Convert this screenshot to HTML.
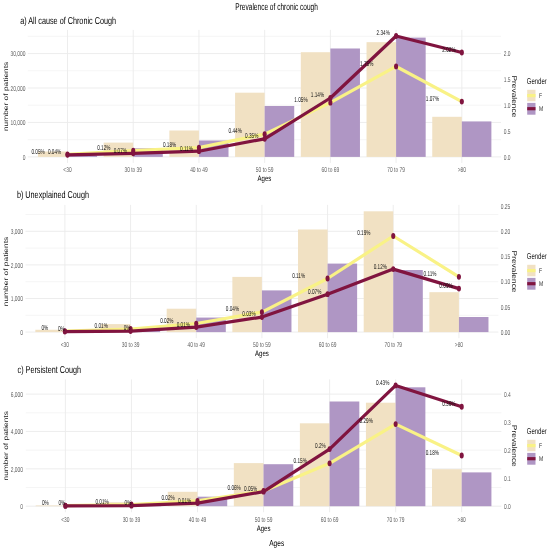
<!DOCTYPE html>
<html><head><meta charset="utf-8"><style>
html,body{margin:0;padding:0;background:#fff;}
svg{display:block;font-family:"Liberation Sans",sans-serif;text-rendering:geometricPrecision;will-change:transform;}
</style></head><body>
<svg width="550" height="552" viewBox="0 0 550 552">
<rect width="550" height="552" fill="#fff"/>
<line x1="27.80" y1="139.68" x2="501.00" y2="139.68" stroke="#EFEFEF" stroke-width="0.6"/>
<line x1="27.80" y1="105.22" x2="501.00" y2="105.22" stroke="#EFEFEF" stroke-width="0.6"/>
<line x1="27.80" y1="70.78" x2="501.00" y2="70.78" stroke="#EFEFEF" stroke-width="0.6"/>
<line x1="27.80" y1="36.33" x2="501.00" y2="36.33" stroke="#EFEFEF" stroke-width="0.6"/>
<line x1="27.80" y1="156.90" x2="501.00" y2="156.90" stroke="#EBEBEB" stroke-width="0.9"/>
<line x1="27.80" y1="122.45" x2="501.00" y2="122.45" stroke="#EBEBEB" stroke-width="0.9"/>
<line x1="27.80" y1="88.00" x2="501.00" y2="88.00" stroke="#EBEBEB" stroke-width="0.9"/>
<line x1="27.80" y1="53.55" x2="501.00" y2="53.55" stroke="#EBEBEB" stroke-width="0.9"/>
<line x1="67.50" y1="29.90" x2="67.50" y2="162.95" stroke="#EBEBEB" stroke-width="0.9"/>
<line x1="133.22" y1="29.90" x2="133.22" y2="162.95" stroke="#EBEBEB" stroke-width="0.9"/>
<line x1="198.94" y1="29.90" x2="198.94" y2="162.95" stroke="#EBEBEB" stroke-width="0.9"/>
<line x1="264.66" y1="29.90" x2="264.66" y2="162.95" stroke="#EBEBEB" stroke-width="0.9"/>
<line x1="330.38" y1="29.90" x2="330.38" y2="162.95" stroke="#EBEBEB" stroke-width="0.9"/>
<line x1="396.10" y1="29.90" x2="396.10" y2="162.95" stroke="#EBEBEB" stroke-width="0.9"/>
<line x1="461.82" y1="29.90" x2="461.82" y2="162.95" stroke="#EBEBEB" stroke-width="0.9"/>
<rect x="37.93" y="151.49" width="29.57" height="5.41" fill="#F1E1C3"/>
<rect x="67.50" y="155.52" width="29.57" height="1.38" fill="#AF96C4"/>
<rect x="103.65" y="142.60" width="29.57" height="14.30" fill="#F1E1C3"/>
<rect x="133.22" y="148.29" width="29.57" height="8.61" fill="#AF96C4"/>
<rect x="169.37" y="130.51" width="29.57" height="26.39" fill="#F1E1C3"/>
<rect x="198.94" y="140.50" width="29.57" height="16.40" fill="#AF96C4"/>
<rect x="235.09" y="92.69" width="29.57" height="64.21" fill="#F1E1C3"/>
<rect x="264.66" y="105.98" width="29.57" height="50.92" fill="#AF96C4"/>
<rect x="300.81" y="52.21" width="29.57" height="104.69" fill="#F1E1C3"/>
<rect x="330.38" y="48.49" width="29.57" height="108.41" fill="#AF96C4"/>
<rect x="366.53" y="42.18" width="29.57" height="114.72" fill="#F1E1C3"/>
<rect x="396.10" y="37.60" width="29.57" height="119.30" fill="#AF96C4"/>
<rect x="432.25" y="116.80" width="29.57" height="40.10" fill="#F1E1C3"/>
<rect x="461.82" y="121.42" width="29.57" height="35.48" fill="#AF96C4"/>
<polyline points="67.50,154.32 133.22,150.70 198.94,147.60 264.66,134.16 330.38,102.64 396.10,66.47 461.82,101.61" fill="none" stroke="#F9F286" stroke-width="3.2" stroke-linejoin="round"/>
<polyline points="67.50,154.83 133.22,153.28 198.94,151.22 264.66,138.81 330.38,97.99 396.10,35.98 461.82,52.52" fill="none" stroke="#80143F" stroke-width="3.2" stroke-linejoin="round"/>
<ellipse cx="67.50" cy="154.32" rx="2.05" ry="2.9" fill="#80143F"/>
<ellipse cx="67.50" cy="154.83" rx="2.05" ry="2.9" fill="#80143F"/>
<ellipse cx="133.22" cy="150.70" rx="2.05" ry="2.9" fill="#80143F"/>
<ellipse cx="133.22" cy="153.28" rx="2.05" ry="2.9" fill="#80143F"/>
<ellipse cx="198.94" cy="147.60" rx="2.05" ry="2.9" fill="#80143F"/>
<ellipse cx="198.94" cy="151.22" rx="2.05" ry="2.9" fill="#80143F"/>
<ellipse cx="264.66" cy="134.16" rx="2.05" ry="2.9" fill="#80143F"/>
<ellipse cx="264.66" cy="138.81" rx="2.05" ry="2.9" fill="#80143F"/>
<ellipse cx="330.38" cy="102.64" rx="2.05" ry="2.9" fill="#80143F"/>
<ellipse cx="330.38" cy="97.99" rx="2.05" ry="2.9" fill="#80143F"/>
<ellipse cx="396.10" cy="66.47" rx="2.05" ry="2.9" fill="#80143F"/>
<ellipse cx="396.10" cy="35.98" rx="2.05" ry="2.9" fill="#80143F"/>
<ellipse cx="461.82" cy="101.61" rx="2.05" ry="2.9" fill="#80143F"/>
<ellipse cx="461.82" cy="52.52" rx="2.05" ry="2.9" fill="#80143F"/>
<rect x="527.20" y="89.80" width="8.30" height="11.50" fill="#F1E1C3"/>
<line x1="527.20" y1="95.60" x2="535.50" y2="95.60" stroke="#F9F286" stroke-width="3.2"/>
<rect x="527.20" y="102.90" width="8.30" height="11.80" fill="#AF96C4"/>
<line x1="527.20" y1="108.70" x2="535.50" y2="108.70" stroke="#80143F" stroke-width="3.2"/>
<line x1="25.50" y1="315.30" x2="498.30" y2="315.30" stroke="#EFEFEF" stroke-width="0.6"/>
<line x1="25.50" y1="281.70" x2="498.30" y2="281.70" stroke="#EFEFEF" stroke-width="0.6"/>
<line x1="25.50" y1="248.10" x2="498.30" y2="248.10" stroke="#EFEFEF" stroke-width="0.6"/>
<line x1="25.50" y1="214.50" x2="498.30" y2="214.50" stroke="#EFEFEF" stroke-width="0.6"/>
<line x1="25.50" y1="332.10" x2="498.30" y2="332.10" stroke="#EBEBEB" stroke-width="0.9"/>
<line x1="25.50" y1="298.50" x2="498.30" y2="298.50" stroke="#EBEBEB" stroke-width="0.9"/>
<line x1="25.50" y1="264.90" x2="498.30" y2="264.90" stroke="#EBEBEB" stroke-width="0.9"/>
<line x1="25.50" y1="231.30" x2="498.30" y2="231.30" stroke="#EBEBEB" stroke-width="0.9"/>
<line x1="64.90" y1="204.90" x2="64.90" y2="338.16" stroke="#EBEBEB" stroke-width="0.9"/>
<line x1="130.57" y1="204.90" x2="130.57" y2="338.16" stroke="#EBEBEB" stroke-width="0.9"/>
<line x1="196.24" y1="204.90" x2="196.24" y2="338.16" stroke="#EBEBEB" stroke-width="0.9"/>
<line x1="261.91" y1="204.90" x2="261.91" y2="338.16" stroke="#EBEBEB" stroke-width="0.9"/>
<line x1="327.58" y1="204.90" x2="327.58" y2="338.16" stroke="#EBEBEB" stroke-width="0.9"/>
<line x1="393.25" y1="204.90" x2="393.25" y2="338.16" stroke="#EBEBEB" stroke-width="0.9"/>
<line x1="458.92" y1="204.90" x2="458.92" y2="338.16" stroke="#EBEBEB" stroke-width="0.9"/>
<rect x="35.35" y="329.75" width="29.55" height="2.35" fill="#F1E1C3"/>
<rect x="64.90" y="331.26" width="29.55" height="0.84" fill="#AF96C4"/>
<rect x="101.02" y="324.10" width="29.55" height="8.00" fill="#F1E1C3"/>
<rect x="130.57" y="328.40" width="29.55" height="3.70" fill="#AF96C4"/>
<rect x="166.69" y="308.71" width="29.55" height="23.39" fill="#F1E1C3"/>
<rect x="196.24" y="317.58" width="29.55" height="14.52" fill="#AF96C4"/>
<rect x="232.36" y="276.90" width="29.55" height="55.20" fill="#F1E1C3"/>
<rect x="261.91" y="290.40" width="29.55" height="41.70" fill="#AF96C4"/>
<rect x="298.03" y="229.49" width="29.55" height="102.61" fill="#F1E1C3"/>
<rect x="327.58" y="263.59" width="29.55" height="68.51" fill="#AF96C4"/>
<rect x="363.70" y="211.31" width="29.55" height="120.79" fill="#F1E1C3"/>
<rect x="393.25" y="270.01" width="29.55" height="62.09" fill="#AF96C4"/>
<rect x="429.37" y="292.18" width="29.55" height="39.92" fill="#F1E1C3"/>
<rect x="458.92" y="317.01" width="29.55" height="15.09" fill="#AF96C4"/>
<polyline points="64.90,331.09 130.57,328.98 196.24,323.53 261.91,312.09 327.58,278.52 393.25,235.99 458.92,276.81" fill="none" stroke="#F9F286" stroke-width="3.2" stroke-linejoin="round"/>
<polyline points="64.90,331.60 130.57,331.09 196.24,327.11 261.91,317.08 327.58,294.20 393.25,269.10 458.92,288.60" fill="none" stroke="#80143F" stroke-width="3.2" stroke-linejoin="round"/>
<ellipse cx="64.90" cy="331.09" rx="2.05" ry="2.9" fill="#80143F"/>
<ellipse cx="64.90" cy="331.60" rx="2.05" ry="2.9" fill="#80143F"/>
<ellipse cx="130.57" cy="328.98" rx="2.05" ry="2.9" fill="#80143F"/>
<ellipse cx="130.57" cy="331.09" rx="2.05" ry="2.9" fill="#80143F"/>
<ellipse cx="196.24" cy="323.53" rx="2.05" ry="2.9" fill="#80143F"/>
<ellipse cx="196.24" cy="327.11" rx="2.05" ry="2.9" fill="#80143F"/>
<ellipse cx="261.91" cy="312.09" rx="2.05" ry="2.9" fill="#80143F"/>
<ellipse cx="261.91" cy="317.08" rx="2.05" ry="2.9" fill="#80143F"/>
<ellipse cx="327.58" cy="278.52" rx="2.05" ry="2.9" fill="#80143F"/>
<ellipse cx="327.58" cy="294.20" rx="2.05" ry="2.9" fill="#80143F"/>
<ellipse cx="393.25" cy="235.99" rx="2.05" ry="2.9" fill="#80143F"/>
<ellipse cx="393.25" cy="269.10" rx="2.05" ry="2.9" fill="#80143F"/>
<ellipse cx="458.92" cy="276.81" rx="2.05" ry="2.9" fill="#80143F"/>
<ellipse cx="458.92" cy="288.60" rx="2.05" ry="2.9" fill="#80143F"/>
<rect x="527.20" y="264.80" width="8.30" height="11.50" fill="#F1E1C3"/>
<line x1="527.20" y1="270.60" x2="535.50" y2="270.60" stroke="#F9F286" stroke-width="3.2"/>
<rect x="527.20" y="277.90" width="8.30" height="11.80" fill="#AF96C4"/>
<line x1="527.20" y1="283.70" x2="535.50" y2="283.70" stroke="#80143F" stroke-width="3.2"/>
<line x1="25.80" y1="487.52" x2="501.30" y2="487.52" stroke="#EFEFEF" stroke-width="0.6"/>
<line x1="25.80" y1="450.16" x2="501.30" y2="450.16" stroke="#EFEFEF" stroke-width="0.6"/>
<line x1="25.80" y1="412.80" x2="501.30" y2="412.80" stroke="#EFEFEF" stroke-width="0.6"/>
<line x1="25.80" y1="506.20" x2="501.30" y2="506.20" stroke="#EBEBEB" stroke-width="0.9"/>
<line x1="25.80" y1="468.84" x2="501.30" y2="468.84" stroke="#EBEBEB" stroke-width="0.9"/>
<line x1="25.80" y1="431.48" x2="501.30" y2="431.48" stroke="#EBEBEB" stroke-width="0.9"/>
<line x1="25.80" y1="394.12" x2="501.30" y2="394.12" stroke="#EBEBEB" stroke-width="0.9"/>
<line x1="65.40" y1="379.40" x2="65.40" y2="512.24" stroke="#EBEBEB" stroke-width="0.9"/>
<line x1="131.45" y1="379.40" x2="131.45" y2="512.24" stroke="#EBEBEB" stroke-width="0.9"/>
<line x1="197.50" y1="379.40" x2="197.50" y2="512.24" stroke="#EBEBEB" stroke-width="0.9"/>
<line x1="263.55" y1="379.40" x2="263.55" y2="512.24" stroke="#EBEBEB" stroke-width="0.9"/>
<line x1="329.60" y1="379.40" x2="329.60" y2="512.24" stroke="#EBEBEB" stroke-width="0.9"/>
<line x1="395.65" y1="379.40" x2="395.65" y2="512.24" stroke="#EBEBEB" stroke-width="0.9"/>
<line x1="461.70" y1="379.40" x2="461.70" y2="512.24" stroke="#EBEBEB" stroke-width="0.9"/>
<rect x="35.68" y="505.45" width="29.72" height="0.75" fill="#F1E1C3"/>
<rect x="65.40" y="505.83" width="29.72" height="0.37" fill="#AF96C4"/>
<rect x="101.73" y="502.20" width="29.72" height="4.00" fill="#F1E1C3"/>
<rect x="131.45" y="503.40" width="29.72" height="2.80" fill="#AF96C4"/>
<rect x="167.78" y="491.80" width="29.72" height="14.40" fill="#F1E1C3"/>
<rect x="197.50" y="496.69" width="29.72" height="9.51" fill="#AF96C4"/>
<rect x="233.83" y="463.11" width="29.72" height="43.09" fill="#F1E1C3"/>
<rect x="263.55" y="464.21" width="29.72" height="41.99" fill="#AF96C4"/>
<rect x="299.88" y="423.30" width="29.72" height="82.90" fill="#F1E1C3"/>
<rect x="329.60" y="401.50" width="29.72" height="104.70" fill="#AF96C4"/>
<rect x="365.93" y="402.71" width="29.72" height="103.49" fill="#F1E1C3"/>
<rect x="395.65" y="387.30" width="29.72" height="118.90" fill="#AF96C4"/>
<rect x="431.98" y="469.19" width="29.72" height="37.01" fill="#F1E1C3"/>
<rect x="461.70" y="472.39" width="29.72" height="33.81" fill="#AF96C4"/>
<polyline points="65.40,505.64 131.45,504.52 197.50,500.88 263.55,490.93 329.60,463.33 395.65,424.10 461.70,455.48" fill="none" stroke="#F9F286" stroke-width="3.2" stroke-linejoin="round"/>
<polyline points="65.40,505.92 131.45,505.64 197.50,503.12 263.55,491.63 329.60,449.04 395.65,385.43 461.70,406.73" fill="none" stroke="#80143F" stroke-width="3.2" stroke-linejoin="round"/>
<ellipse cx="65.40" cy="505.64" rx="2.05" ry="2.9" fill="#80143F"/>
<ellipse cx="65.40" cy="505.92" rx="2.05" ry="2.9" fill="#80143F"/>
<ellipse cx="131.45" cy="504.52" rx="2.05" ry="2.9" fill="#80143F"/>
<ellipse cx="131.45" cy="505.64" rx="2.05" ry="2.9" fill="#80143F"/>
<ellipse cx="197.50" cy="500.88" rx="2.05" ry="2.9" fill="#80143F"/>
<ellipse cx="197.50" cy="503.12" rx="2.05" ry="2.9" fill="#80143F"/>
<ellipse cx="263.55" cy="490.93" rx="2.05" ry="2.9" fill="#80143F"/>
<ellipse cx="263.55" cy="491.63" rx="2.05" ry="2.9" fill="#80143F"/>
<ellipse cx="329.60" cy="463.33" rx="2.05" ry="2.9" fill="#80143F"/>
<ellipse cx="329.60" cy="449.04" rx="2.05" ry="2.9" fill="#80143F"/>
<ellipse cx="395.65" cy="424.10" rx="2.05" ry="2.9" fill="#80143F"/>
<ellipse cx="395.65" cy="385.43" rx="2.05" ry="2.9" fill="#80143F"/>
<ellipse cx="461.70" cy="455.48" rx="2.05" ry="2.9" fill="#80143F"/>
<ellipse cx="461.70" cy="406.73" rx="2.05" ry="2.9" fill="#80143F"/>
<rect x="527.20" y="439.80" width="8.30" height="11.50" fill="#F1E1C3"/>
<line x1="527.20" y1="445.60" x2="535.50" y2="445.60" stroke="#F9F286" stroke-width="3.2"/>
<rect x="527.20" y="452.90" width="8.30" height="11.80" fill="#AF96C4"/>
<line x1="527.20" y1="458.70" x2="535.50" y2="458.70" stroke="#80143F" stroke-width="3.2"/>
<g>
<text transform="translate(276.60,9.60) scale(0.668,1)" font-size="9.8" text-anchor="middle" fill="#000">Prevalence of chronic cough</text>
<text transform="translate(38.09,153.62) scale(0.669,1)" font-size="7.0" text-anchor="middle" fill="#111">0.05%</text>
<text transform="translate(54.59,154.23) scale(0.669,1)" font-size="7.0" text-anchor="middle" fill="#111">0.04%</text>
<text transform="translate(103.81,150.00) scale(0.669,1)" font-size="7.0" text-anchor="middle" fill="#111">0.12%</text>
<text transform="translate(120.31,152.68) scale(0.669,1)" font-size="7.0" text-anchor="middle" fill="#111">0.07%</text>
<text transform="translate(169.53,146.90) scale(0.669,1)" font-size="7.0" text-anchor="middle" fill="#111">0.18%</text>
<text transform="translate(186.53,150.62) scale(0.669,1)" font-size="7.0" text-anchor="middle" fill="#111">0.11%</text>
<text transform="translate(235.25,133.46) scale(0.669,1)" font-size="7.0" text-anchor="middle" fill="#111">0.44%</text>
<text transform="translate(251.75,138.21) scale(0.669,1)" font-size="7.0" text-anchor="middle" fill="#111">0.35%</text>
<text transform="translate(300.97,101.94) scale(0.669,1)" font-size="7.0" text-anchor="middle" fill="#111">1.05%</text>
<text transform="translate(317.47,97.39) scale(0.669,1)" font-size="7.0" text-anchor="middle" fill="#111">1.14%</text>
<text transform="translate(366.69,65.77) scale(0.669,1)" font-size="7.0" text-anchor="middle" fill="#111">1.75%</text>
<text transform="translate(383.19,35.38) scale(0.669,1)" font-size="7.0" text-anchor="middle" fill="#111">2.34%</text>
<text transform="translate(432.41,100.91) scale(0.669,1)" font-size="7.0" text-anchor="middle" fill="#111">1.07%</text>
<text transform="translate(448.91,51.92) scale(0.669,1)" font-size="7.0" text-anchor="middle" fill="#111">2.02%</text>
<text transform="translate(25.50,159.70) scale(0.695,1)" font-size="7.0" text-anchor="end" fill="#5E5E5E">0</text>
<text transform="translate(25.50,125.25) scale(0.695,1)" font-size="7.0" text-anchor="end" fill="#5E5E5E">10,000</text>
<text transform="translate(25.50,90.80) scale(0.695,1)" font-size="7.0" text-anchor="end" fill="#5E5E5E">20,000</text>
<text transform="translate(25.50,56.35) scale(0.695,1)" font-size="7.0" text-anchor="end" fill="#5E5E5E">30,000</text>
<text transform="translate(503.80,159.60) scale(0.695,1)" font-size="7.0" text-anchor="start" fill="#5E5E5E">0.0</text>
<text transform="translate(503.80,133.76) scale(0.695,1)" font-size="7.0" text-anchor="start" fill="#5E5E5E">0.5</text>
<text transform="translate(503.80,107.92) scale(0.695,1)" font-size="7.0" text-anchor="start" fill="#5E5E5E">1.0</text>
<text transform="translate(503.80,82.09) scale(0.695,1)" font-size="7.0" text-anchor="start" fill="#5E5E5E">1.5</text>
<text transform="translate(503.80,56.25) scale(0.695,1)" font-size="7.0" text-anchor="start" fill="#5E5E5E">2.0</text>
<text transform="translate(67.50,172.30) scale(0.695,1)" font-size="7.0" text-anchor="middle" fill="#5E5E5E">&lt;30</text>
<text transform="translate(133.22,172.30) scale(0.695,1)" font-size="7.0" text-anchor="middle" fill="#5E5E5E">30 to 39</text>
<text transform="translate(198.94,172.30) scale(0.695,1)" font-size="7.0" text-anchor="middle" fill="#5E5E5E">40 to 49</text>
<text transform="translate(264.66,172.30) scale(0.695,1)" font-size="7.0" text-anchor="middle" fill="#5E5E5E">50 to 59</text>
<text transform="translate(330.38,172.30) scale(0.695,1)" font-size="7.0" text-anchor="middle" fill="#5E5E5E">60 to 69</text>
<text transform="translate(396.10,172.30) scale(0.695,1)" font-size="7.0" text-anchor="middle" fill="#5E5E5E">70 to 79</text>
<text transform="translate(461.82,172.30) scale(0.695,1)" font-size="7.0" text-anchor="middle" fill="#5E5E5E">&gt;80</text>
<text transform="translate(264.40,180.90) scale(0.757,1)" font-size="8.0" text-anchor="middle" fill="#000">Ages</text>
<text transform="translate(8.30,96.42) rotate(-90) scale(1,0.760)" font-size="8.4" text-anchor="middle" fill="#1a1a1a">number of patients</text>
<text transform="translate(511.90,96.42) rotate(90) scale(1,0.840)" font-size="8.4" text-anchor="middle" fill="#1a1a1a">Prevalence</text>
<text transform="translate(20.20,23.60) scale(0.724,1)" font-size="10.0" text-anchor="start" fill="#000">a) All cause of Chronic Cough</text>
<text transform="translate(526.70,84.00) scale(0.709,1)" font-size="8.5" text-anchor="start" fill="#1a1a1a">Gender</text>
<text transform="translate(539.10,98.20) scale(0.740,1)" font-size="6.8" text-anchor="start" fill="#333">F</text>
<text transform="translate(539.10,111.30) scale(0.740,1)" font-size="6.8" text-anchor="start" fill="#333">M</text>
<text transform="translate(44.86,330.39) scale(0.669,1)" font-size="7.0" text-anchor="middle" fill="#111">0%</text>
<text transform="translate(61.36,331.00) scale(0.669,1)" font-size="7.0" text-anchor="middle" fill="#111">0%</text>
<text transform="translate(101.16,328.28) scale(0.669,1)" font-size="7.0" text-anchor="middle" fill="#111">0.01%</text>
<text transform="translate(127.03,330.49) scale(0.669,1)" font-size="7.0" text-anchor="middle" fill="#111">0%</text>
<text transform="translate(166.83,322.83) scale(0.669,1)" font-size="7.0" text-anchor="middle" fill="#111">0.02%</text>
<text transform="translate(183.33,326.51) scale(0.669,1)" font-size="7.0" text-anchor="middle" fill="#111">0.01%</text>
<text transform="translate(232.50,311.39) scale(0.669,1)" font-size="7.0" text-anchor="middle" fill="#111">0.04%</text>
<text transform="translate(249.00,316.48) scale(0.669,1)" font-size="7.0" text-anchor="middle" fill="#111">0.03%</text>
<text transform="translate(298.67,277.82) scale(0.669,1)" font-size="7.0" text-anchor="middle" fill="#111">0.11%</text>
<text transform="translate(314.67,293.60) scale(0.669,1)" font-size="7.0" text-anchor="middle" fill="#111">0.07%</text>
<text transform="translate(363.84,235.29) scale(0.669,1)" font-size="7.0" text-anchor="middle" fill="#111">0.19%</text>
<text transform="translate(380.34,268.50) scale(0.669,1)" font-size="7.0" text-anchor="middle" fill="#111">0.12%</text>
<text transform="translate(430.01,276.11) scale(0.669,1)" font-size="7.0" text-anchor="middle" fill="#111">0.11%</text>
<text transform="translate(446.01,288.00) scale(0.669,1)" font-size="7.0" text-anchor="middle" fill="#111">0.09%</text>
<text transform="translate(22.90,334.90) scale(0.695,1)" font-size="7.0" text-anchor="end" fill="#5E5E5E">0</text>
<text transform="translate(22.90,301.30) scale(0.695,1)" font-size="7.0" text-anchor="end" fill="#5E5E5E">1,000</text>
<text transform="translate(22.90,267.70) scale(0.695,1)" font-size="7.0" text-anchor="end" fill="#5E5E5E">2,000</text>
<text transform="translate(22.90,234.10) scale(0.695,1)" font-size="7.0" text-anchor="end" fill="#5E5E5E">3,000</text>
<text transform="translate(500.80,334.80) scale(0.695,1)" font-size="7.0" text-anchor="start" fill="#5E5E5E">0.00</text>
<text transform="translate(500.80,309.60) scale(0.695,1)" font-size="7.0" text-anchor="start" fill="#5E5E5E">0.05</text>
<text transform="translate(500.80,284.40) scale(0.695,1)" font-size="7.0" text-anchor="start" fill="#5E5E5E">0.10</text>
<text transform="translate(500.80,259.20) scale(0.695,1)" font-size="7.0" text-anchor="start" fill="#5E5E5E">0.15</text>
<text transform="translate(500.80,234.00) scale(0.695,1)" font-size="7.0" text-anchor="start" fill="#5E5E5E">0.20</text>
<text transform="translate(500.80,208.80) scale(0.695,1)" font-size="7.0" text-anchor="start" fill="#5E5E5E">0.25</text>
<text transform="translate(64.90,347.10) scale(0.695,1)" font-size="7.0" text-anchor="middle" fill="#5E5E5E">&lt;30</text>
<text transform="translate(130.57,347.10) scale(0.695,1)" font-size="7.0" text-anchor="middle" fill="#5E5E5E">30 to 39</text>
<text transform="translate(196.24,347.10) scale(0.695,1)" font-size="7.0" text-anchor="middle" fill="#5E5E5E">40 to 49</text>
<text transform="translate(261.91,347.10) scale(0.695,1)" font-size="7.0" text-anchor="middle" fill="#5E5E5E">50 to 59</text>
<text transform="translate(327.58,347.10) scale(0.695,1)" font-size="7.0" text-anchor="middle" fill="#5E5E5E">60 to 69</text>
<text transform="translate(393.25,347.10) scale(0.695,1)" font-size="7.0" text-anchor="middle" fill="#5E5E5E">70 to 79</text>
<text transform="translate(458.92,347.10) scale(0.695,1)" font-size="7.0" text-anchor="middle" fill="#5E5E5E">&gt;80</text>
<text transform="translate(261.90,355.90) scale(0.757,1)" font-size="8.0" text-anchor="middle" fill="#000">Ages</text>
<text transform="translate(8.30,271.53) rotate(-90) scale(1,0.760)" font-size="8.4" text-anchor="middle" fill="#1a1a1a">number of patients</text>
<text transform="translate(511.90,271.53) rotate(90) scale(1,0.840)" font-size="8.4" text-anchor="middle" fill="#1a1a1a">Prevalence</text>
<text transform="translate(16.90,198.40) scale(0.724,1)" font-size="10.0" text-anchor="start" fill="#000">b) Unexplained Cough</text>
<text transform="translate(526.70,259.00) scale(0.709,1)" font-size="8.5" text-anchor="start" fill="#1a1a1a">Gender</text>
<text transform="translate(539.10,273.20) scale(0.740,1)" font-size="6.8" text-anchor="start" fill="#333">F</text>
<text transform="translate(539.10,286.30) scale(0.740,1)" font-size="6.8" text-anchor="start" fill="#333">M</text>
<text transform="translate(45.36,504.94) scale(0.669,1)" font-size="7.0" text-anchor="middle" fill="#111">0%</text>
<text transform="translate(61.86,505.32) scale(0.669,1)" font-size="7.0" text-anchor="middle" fill="#111">0%</text>
<text transform="translate(102.04,503.82) scale(0.669,1)" font-size="7.0" text-anchor="middle" fill="#111">0.01%</text>
<text transform="translate(127.91,505.04) scale(0.669,1)" font-size="7.0" text-anchor="middle" fill="#111">0%</text>
<text transform="translate(168.09,500.18) scale(0.669,1)" font-size="7.0" text-anchor="middle" fill="#111">0.02%</text>
<text transform="translate(184.59,502.52) scale(0.669,1)" font-size="7.0" text-anchor="middle" fill="#111">0.01%</text>
<text transform="translate(234.14,490.23) scale(0.669,1)" font-size="7.0" text-anchor="middle" fill="#111">0.06%</text>
<text transform="translate(250.64,491.03) scale(0.669,1)" font-size="7.0" text-anchor="middle" fill="#111">0.05%</text>
<text transform="translate(300.19,462.63) scale(0.669,1)" font-size="7.0" text-anchor="middle" fill="#111">0.15%</text>
<text transform="translate(320.44,448.44) scale(0.669,1)" font-size="7.0" text-anchor="middle" fill="#111">0.2%</text>
<text transform="translate(366.24,423.40) scale(0.669,1)" font-size="7.0" text-anchor="middle" fill="#111">0.29%</text>
<text transform="translate(382.74,384.83) scale(0.669,1)" font-size="7.0" text-anchor="middle" fill="#111">0.43%</text>
<text transform="translate(432.29,454.78) scale(0.669,1)" font-size="7.0" text-anchor="middle" fill="#111">0.18%</text>
<text transform="translate(448.79,406.13) scale(0.669,1)" font-size="7.0" text-anchor="middle" fill="#111">0.36%</text>
<text transform="translate(22.90,509.00) scale(0.695,1)" font-size="7.0" text-anchor="end" fill="#5E5E5E">0</text>
<text transform="translate(22.90,471.64) scale(0.695,1)" font-size="7.0" text-anchor="end" fill="#5E5E5E">2,000</text>
<text transform="translate(22.90,434.28) scale(0.695,1)" font-size="7.0" text-anchor="end" fill="#5E5E5E">4,000</text>
<text transform="translate(22.90,396.92) scale(0.695,1)" font-size="7.0" text-anchor="end" fill="#5E5E5E">6,000</text>
<text transform="translate(503.90,508.90) scale(0.695,1)" font-size="7.0" text-anchor="start" fill="#5E5E5E">0.0</text>
<text transform="translate(503.90,480.88) scale(0.695,1)" font-size="7.0" text-anchor="start" fill="#5E5E5E">0.1</text>
<text transform="translate(503.90,452.86) scale(0.695,1)" font-size="7.0" text-anchor="start" fill="#5E5E5E">0.2</text>
<text transform="translate(503.90,424.84) scale(0.695,1)" font-size="7.0" text-anchor="start" fill="#5E5E5E">0.3</text>
<text transform="translate(503.90,396.82) scale(0.695,1)" font-size="7.0" text-anchor="start" fill="#5E5E5E">0.4</text>
<text transform="translate(65.40,521.90) scale(0.695,1)" font-size="7.0" text-anchor="middle" fill="#5E5E5E">&lt;30</text>
<text transform="translate(131.45,521.90) scale(0.695,1)" font-size="7.0" text-anchor="middle" fill="#5E5E5E">30 to 39</text>
<text transform="translate(197.50,521.90) scale(0.695,1)" font-size="7.0" text-anchor="middle" fill="#5E5E5E">40 to 49</text>
<text transform="translate(263.55,521.90) scale(0.695,1)" font-size="7.0" text-anchor="middle" fill="#5E5E5E">50 to 59</text>
<text transform="translate(329.60,521.90) scale(0.695,1)" font-size="7.0" text-anchor="middle" fill="#5E5E5E">60 to 69</text>
<text transform="translate(395.65,521.90) scale(0.695,1)" font-size="7.0" text-anchor="middle" fill="#5E5E5E">70 to 79</text>
<text transform="translate(461.70,521.90) scale(0.695,1)" font-size="7.0" text-anchor="middle" fill="#5E5E5E">&gt;80</text>
<text transform="translate(263.55,531.20) scale(0.757,1)" font-size="8.0" text-anchor="middle" fill="#000">Ages</text>
<text transform="translate(8.30,445.82) rotate(-90) scale(1,0.760)" font-size="8.4" text-anchor="middle" fill="#1a1a1a">number of patients</text>
<text transform="translate(511.90,445.82) rotate(90) scale(1,0.840)" font-size="8.4" text-anchor="middle" fill="#1a1a1a">Prevalence</text>
<text transform="translate(17.60,373.40) scale(0.721,1)" font-size="10.0" text-anchor="start" fill="#000">c) Persistent Cough</text>
<text transform="translate(526.70,434.00) scale(0.709,1)" font-size="8.5" text-anchor="start" fill="#1a1a1a">Gender</text>
<text transform="translate(539.10,448.20) scale(0.740,1)" font-size="6.8" text-anchor="start" fill="#333">F</text>
<text transform="translate(539.10,461.30) scale(0.740,1)" font-size="6.8" text-anchor="start" fill="#333">M</text>
<text transform="translate(276.70,546.40) scale(0.760,1)" font-size="8.6" text-anchor="middle" fill="#000">Ages</text>
</g>
</svg>
</body></html>
